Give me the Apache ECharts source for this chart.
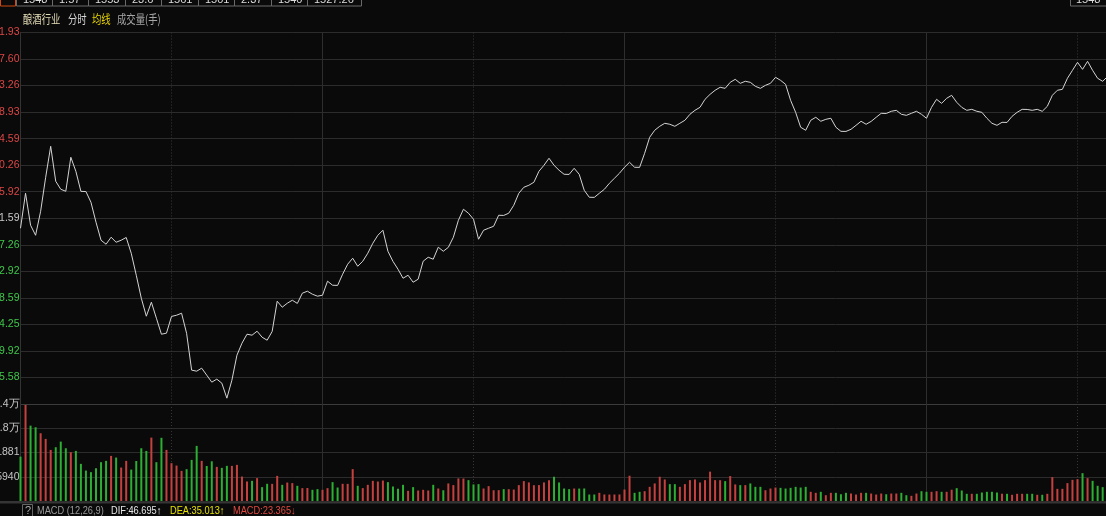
<!DOCTYPE html>
<html>
<head>
<meta charset="utf-8">
<title>酿酒行业 分时</title>
<script src="https://cdn.jsdelivr.net/npm/echarts@6/dist/echarts.min.js"></script>
<style>
    html, body { margin: 0; padding: 0; background: #0a0a0a; }
    #FenShi { width: 1106px; height: 516px; }
</style>
</head>
<body>
<div id="FenShi"></div>
<script>
// 昨收
var prevClose = 1531.59;

// 价格刻度（从上到下）
var priceTicks = ['1561.93', '1557.60', '1553.26', '1548.93', '1544.59', '1540.26', '1535.92',
    '1531.59', '1527.26', '1522.92', '1518.59', '1514.25', '1509.92', '1505.58', '1501.25'];

// 成交量刻度（从下到上）
var volumeTicks = ['0', '5940', '11881', '1.8万', '2.4万'];
var volumeMax = 23762;

// 分时价格
var priceData = [
    1529.96, 1535.67, 1530.45, 1528.81, 1532.73, 1538.28, 1543.34, 1537.63, 1536.32, 1536.00,
    1541.55, 1539.26, 1535.98, 1535.95, 1534.20, 1530.94, 1528.00, 1527.35, 1528.49, 1527.67,
    1528.00, 1528.45, 1525.88, 1522.28, 1518.53, 1515.59, 1517.88, 1515.26, 1512.65, 1512.82,
    1515.55, 1515.75, 1516.08, 1512.80, 1506.78, 1506.61, 1507.10, 1505.96, 1504.82, 1505.31,
    1504.65, 1502.20, 1505.14, 1509.22, 1511.18, 1512.65, 1512.49, 1513.14, 1512.16, 1511.67,
    1513.10, 1518.04, 1517.06, 1517.71, 1518.20, 1517.68, 1519.35, 1519.67, 1519.18, 1518.86,
    1519.02, 1521.31, 1520.65, 1520.62, 1522.45, 1524.08, 1525.06, 1523.75, 1524.57, 1525.88,
    1527.51, 1528.81, 1529.63, 1526.20, 1524.55, 1523.26, 1521.79, 1522.28, 1521.14, 1521.63,
    1524.57, 1525.22, 1524.90, 1526.86, 1526.20, 1526.84, 1528.49, 1531.26, 1533.06, 1532.41,
    1531.43, 1528.16, 1529.63, 1529.96, 1530.28, 1532.08, 1532.05, 1532.41, 1533.71, 1535.67,
    1536.65, 1536.98, 1537.47, 1539.26, 1540.24, 1541.39, 1540.24, 1539.43, 1538.77, 1538.75,
    1539.75, 1538.77, 1536.16, 1535.02, 1535.00, 1535.67, 1536.32, 1537.30, 1538.12, 1538.94,
    1539.92, 1540.73, 1539.92, 1539.90, 1542.20, 1544.81, 1545.96, 1546.61, 1547.10, 1546.94,
    1546.61, 1547.10, 1547.59, 1548.57, 1549.22, 1549.71, 1551.02, 1551.83, 1552.49, 1552.98,
    1552.81, 1553.79, 1554.28, 1553.63, 1553.96, 1553.79, 1553.14, 1552.81, 1553.30, 1553.63,
    1554.61, 1554.12, 1553.47, 1550.85, 1548.89, 1546.45, 1545.96, 1547.59, 1548.08, 1547.43,
    1547.75, 1547.92, 1546.45, 1545.79, 1545.77, 1546.12, 1546.77, 1547.43, 1546.94, 1547.41,
    1548.08, 1548.73, 1548.70, 1549.06, 1549.22, 1548.57, 1548.40, 1548.73, 1549.06, 1548.57,
    1547.92, 1549.71, 1551.02, 1550.36, 1551.18, 1551.67, 1550.53, 1549.71, 1549.22, 1549.38,
    1549.06, 1548.89, 1547.92, 1547.10, 1546.77, 1547.26, 1547.24, 1548.24, 1548.89, 1549.38,
    1549.36, 1549.22, 1549.38, 1549.06, 1549.87, 1551.67, 1552.49, 1552.65, 1554.45, 1555.75,
    1557.06, 1555.91, 1557.22, 1555.75, 1554.45, 1553.96, 1554.77
];

// 成交量(手)
var volumeData = [
    10880, 23520, 18460, 18070, 16600, 15210, 12520, 13180, 14550, 12930,
    11960, 12270, 9100, 7460, 7070, 8040, 9510, 9830, 11050, 10640,
    8190, 9830, 7700, 9800, 12930, 12270, 15530, 9510, 15480, 12520,
    9270, 8680, 7380, 7800, 10070, 13500, 9830, 8580, 9730, 8360,
    8120, 8610, 8600, 8850, 5990, 4770, 4940, 5600, 3400, 4210,
    4200, 6160, 3960, 4520, 4380, 3720, 3150, 3180, 2740, 2910,
    2740, 3150, 4620, 3300, 4210, 4200, 7800, 3720, 3150, 3960,
    4940, 4770, 5010, 4620, 3550, 2980, 3960, 2490, 3400, 2570,
    2740, 2570, 3960, 3060, 2640, 4300, 3890, 5530, 5500, 5110,
    4060, 4130, 3060, 3640, 2640, 2660, 2910, 2890, 2810, 3890,
    4870, 4550, 3870, 3900, 4550, 5110, 5940, 4540, 3060, 2910,
    3060, 3050, 3070, 1590, 1590, 2000, 1600, 1580, 1590, 1600,
    2810, 6190, 2000, 2250, 2400, 3470, 4300, 5940, 5280, 4130,
    4130, 3470, 4130, 5110, 5280, 4550, 5110, 7190, 5110, 5100,
    4870, 6110, 4060, 3890, 3890, 4300, 3470, 3470, 2640, 3060,
    3300, 3220, 3060, 3220, 3470, 3300, 3470, 2250, 2000, 2250,
    1420, 2000, 2000, 1660, 2000, 1830, 1590, 2000, 2000, 1830,
    1590, 1830, 1660, 1830, 1830, 2000, 1420, 1270, 1830, 2400,
    2250, 2250, 2400, 2250, 2250, 2760, 3150, 2570, 1760, 1760,
    1760, 2080, 2250, 2250, 2080, 1760, 1760, 1520, 1760, 1760,
    1760, 1760, 1520, 1520, 1760, 5840, 2980, 2980, 4380, 5180,
    5350, 6820, 5600, 4940, 3720, 3400, 3300
];

// 横轴: 9:30-11:30, 13:01-15:00 共241个点
var timeLabels = [];
for (var m = 0; m <= 120; m++) {
    var t = 9 * 60 + 30 + m;
    timeLabels.push(Math.floor(t / 60) + ':' + ('0' + t % 60).slice(-2));
}
for (var m2 = 1; m2 <= 120; m2++) {
    var t2 = 13 * 60 + m2;
    timeLabels.push(Math.floor(t2 / 60) + ':' + ('0' + t2 % 60).slice(-2));
}

var RED = '#c4413f';
var GREEN = '#2caf33';

// 涨跌决定量柱颜色
var volumeBars = volumeData.map(function (v, i) {
    var last = i === 0 ? prevClose : priceData[i - 1];
    return { value: v, itemStyle: { color: priceData[i] >= last ? RED : GREEN } };
});

var gridLeft = 20.5;
var gridWidth = 1208;

function timeAxis(gridIndex, dotted) {
    return {
        type: 'category',
        gridIndex: gridIndex,
        data: timeLabels,
        boundaryGap: false,
        axisLine: { show: false },
        axisTick: { show: false },
        axisLabel: { show: false },
        splitLine: {
            show: true,
            interval: function (i) {
                return dotted ? i % 60 === 30 : (i > 0 && i % 60 === 0);
            },
            lineStyle: { color: dotted ? '#363636' : '#2e2e2e', type: dotted ? [1, 2] : 'solid' }
        }
    };
}

var font = '"Liberation Sans", Arial, sans-serif';

function txt(x, y, s, color, size, sx, family) {
    return {
        type: 'text', x: x, y: y, scaleX: sx || 1, silent: true,
        style: {
            text: s, fill: color, verticalAlign: 'middle', textAlign: 'left',
            font: (size || 11) + 'px ' + (family || font)
        }
    };
}

// 顶部被截掉的表头
var cellEdges = [16, 52, 88, 125, 161, 198, 234, 271, 307, 361];
var cellTexts = ['1548', '1.57', '1553', '23.6', '1561', '1501', '2.37', '1540', '1527.26'];
var topGraphics = [{
    type: 'rect', silent: true,
    shape: { x: 0.5, y: -4, width: 15, height: 10 },
    style: { fill: 'none', stroke: '#d24a12', lineWidth: 1 }
}];
for (var c = 0; c < cellEdges.length - 1; c++) {
    topGraphics.push({
        type: 'rect', silent: true,
        shape: { x: cellEdges[c] + 0.5, y: -4, width: cellEdges[c + 1] - cellEdges[c], height: 10 },
        style: { fill: 'none', stroke: '#6a6a6a', lineWidth: 1 }
    });
    topGraphics.push({
        type: 'text', silent: true, x: cellEdges[c] + 7, y: -6,
        style: { text: cellTexts[c], fill: '#dcdcdc', font: '11px ' + font, verticalAlign: 'top' }
    });
}
topGraphics.push({
    type: 'rect', silent: true,
    shape: { x: 1070.5, y: -4, width: 40, height: 10 },
    style: { fill: 'none', stroke: '#6a6a6a', lineWidth: 1 }
});
topGraphics.push({
    type: 'text', silent: true, x: 1076, y: -6,
    style: { text: '1548', fill: '#dcdcdc', font: '11px ' + font, verticalAlign: 'top' }
});

var cjk = '"Noto Sans CJK SC", sans-serif';

var chart = echarts.init(document.getElementById('FenShi'));

chart.setOption({
    backgroundColor: '#0a0a0a',
    animation: false,
    grid: [
        { left: gridLeft, top: 32.5, width: gridWidth, height: 371.5, outerBoundsMode: 'none' },
        { left: gridLeft, top: 404, width: gridWidth, height: 97, outerBoundsMode: 'none' }
    ],
    xAxis: [timeAxis(0, false), timeAxis(0, true), timeAxis(1, false), timeAxis(1, true)],
    yAxis: [
        // 价格
        {
            type: 'value', gridIndex: 0, position: 'left', show: false,
            min: Number(priceTicks[priceTicks.length - 1]), max: Number(priceTicks[0])
        },
        {
            type: 'value', gridIndex: 0, position: 'left',
            min: 0, max: priceTicks.length - 1, interval: 1,
            axisLine: { show: true, lineStyle: { color: '#333333' } },
            axisTick: { show: false },
            splitLine: { show: true, lineStyle: { color: '#2c2c2c' } },
            axisLabel: {
                showMinLabel: false,
                margin: 1,
                fontSize: 10.5,
                fontFamily: font,
                formatter: function (v) { return priceTicks[priceTicks.length - 1 - v]; },
                color: function (v) {
                    var mid = (priceTicks.length - 1) / 2;
                    return v > mid ? '#dd4646' : (v < mid ? '#3ec84a' : '#c8c8c8');
                }
            }
        },
        // 成交量
        {
            type: 'value', gridIndex: 1, position: 'left', show: false,
            min: 0, max: volumeMax
        },
        {
            type: 'value', gridIndex: 1, position: 'left',
            min: 0, max: volumeTicks.length - 1, interval: 1,
            axisLine: { show: true, lineStyle: { color: '#333333' } },
            axisTick: { show: false },
            splitLine: { show: true, lineStyle: { color: ['#2c2c2c', '#2c2c2c', '#2c2c2c', '#2c2c2c', '#3c3c3c'] } },
            axisLabel: {
                showMinLabel: false,
                margin: 1,
                fontSize: 10.5,
                fontFamily: font,
                color: '#c4c4c4',
                formatter: function (v) { return volumeTicks[v]; }
            }
        }
    ],
    graphic: topGraphics.concat([
        txt(23, 19, '酿酒行业', '#e3dbb5', 12, 0.78, cjk),
        txt(68, 19, '分时', '#d6d6d6', 12, 0.78, cjk),
        txt(92, 19, '均线', '#e6d300', 12, 0.78, cjk),
        txt(117, 19, '成交量(手)', '#a6a6a6', 12, 0.78, cjk),
        {
            type: 'rect', silent: true,
            shape: { x: 0, y: 501, width: 1106, height: 2.5 },
            style: { fill: '#353535' }
        },
        {
            type: 'rect', silent: true,
            shape: { x: 22.5, y: 504.5, width: 10, height: 14 },
            style: { fill: 'none', stroke: '#666666', lineWidth: 1 }
        },
        txt(25, 511, '?', '#a8a8a8', 11),
        txt(37, 511, 'MACD (12,26,9)', '#9a9a9a', 11, 0.84),
        txt(111, 511, 'DIF:46.695↑', '#e6e6e6', 11, 0.84),
        txt(170, 511, 'DEA:35.013↑', '#e5e000', 11, 0.84),
        txt(233, 511, 'MACD:23.365↓', '#e04a40', 11, 0.84)
    ]),
    series: [
        {
            name: '酿酒行业',
            type: 'line',
            xAxisIndex: 0,
            yAxisIndex: 0,
            data: priceData,
            showSymbol: false,
            symbol: 'none',
            lineStyle: { color: '#d4d4d4', width: 1 },
            silent: true
        },
        {
            name: '成交量',
            type: 'bar',
            xAxisIndex: 2,
            yAxisIndex: 2,
            data: volumeBars,
            barWidth: 2,
            silent: true
        }
    ]
});
</script>
</body>
</html>
